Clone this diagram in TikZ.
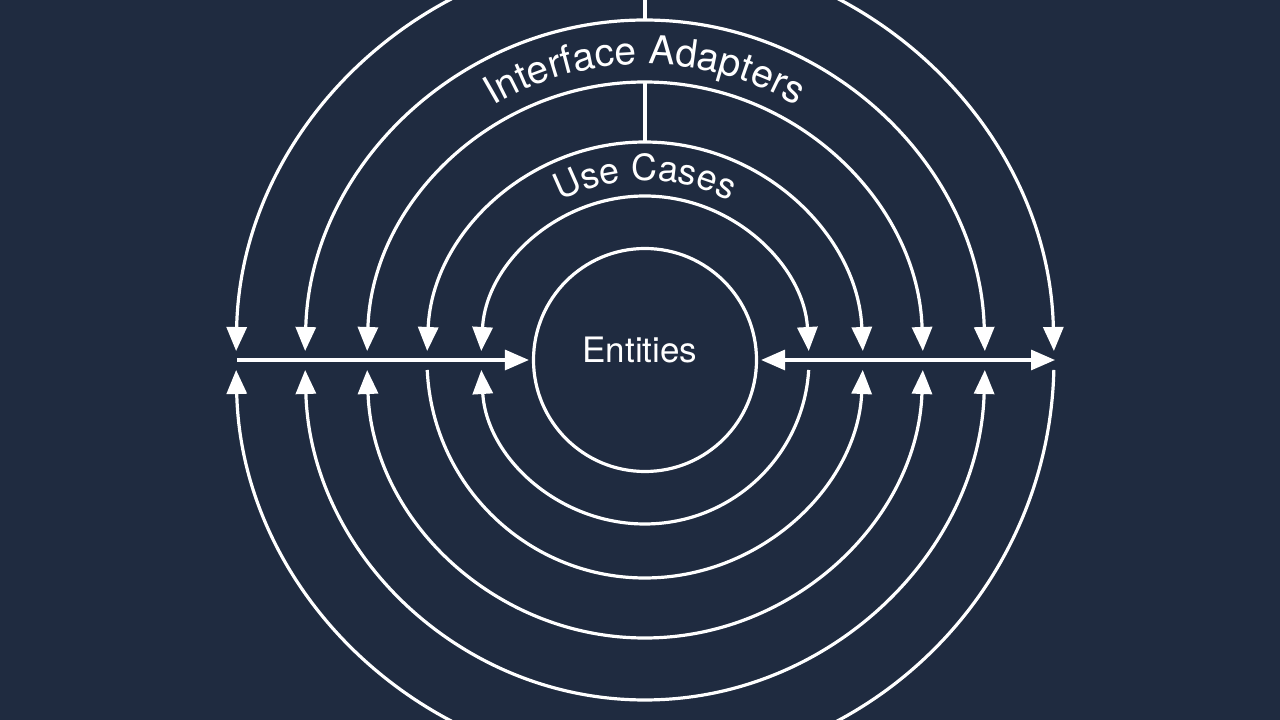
\documentclass[tikz,border=0pt]{standalone}
\usepackage{fontspec}
\setmainfont{TeX Gyre Heros}
\usetikzlibrary{arrows.meta,decorations.text,calc}
\definecolor{bg}{RGB}{31,43,64}
\begin{document}
\begin{tikzpicture}[x=1pt,y=1pt,
  ring/.style={draw=white, line width=3.2pt},
  hd/.tip={Triangle[length=24pt,width=20pt]},
  lbl/.style={text=white, inner sep=0pt}]
\fill[bg] (0,0) rectangle (1280,720);
\useasboundingbox (0,0) rectangle (1280,720);
\coordinate (c) at (645,360);
% central circle
\node[circle, draw=white, line width=3.2pt, minimum size=223pt, inner sep=0pt] (ent) at (c) {};
\node[lbl, font=\fontsize{35}{35}\selectfont, anchor=base] (entlabel) at (640,357) {Entities};
% upper arcs, arrows on both ends
\foreach \r in {164,218,278,340,409} {
  \pgfmathsetmacro\a{asin(9/\r)}
  \draw[ring, hd-hd] ($(c)+(180-\a:\r pt)$) arc[start angle=180-\a, end angle=\a, radius=\r pt];
}
% lower arcs
\foreach \r/\arr in {164/hd-, 218/-hd, 278/hd-hd, 340/hd-hd, 409/hd-} {
  \pgfmathsetmacro\b{asin(10/\r)}
  \draw[ring, \arr] ($(c)+(180+\b:\r pt)$) arc[start angle=180+\b, end angle=360-\b, radius=\r pt];
}
% vertical connectors
\coordinate (v1a) at ($(c)+(0,409)$);
\coordinate (v1b) at ($(c)+(0,340)$);
\coordinate (v2a) at ($(c)+(0,278)$);
\coordinate (v2b) at ($(c)+(0,218)$);
\draw[ring] (v1a) -- (v1b);
\draw[ring] (v2a) -- (v2b);
% horizontal arrows
\coordinate (hl) at (237,360);
\coordinate (hr) at (1055,360);
\draw[ring, -hd, shorten >=3pt] (hl) -- (ent.west);
\draw[ring, hd-hd, shorten <=3pt] (ent.east) -- (hr);
% curved labels
\path[decorate, decoration={text along path, text align=center, text color=white,
  text={|\fontsize{39}{39}\selectfont|Interface Adapters}}]
  ($(c)+(175:296pt)$) arc[start angle=175, end angle=5, radius=296pt];
\path[decorate, decoration={text along path, text align=center, text color=white,
  text={|\fontsize{36}{36}\selectfont|Use Cases}}]
  ($(c)+(175:180pt)$) arc[start angle=175, end angle=5, radius=180pt];
\end{tikzpicture}
\end{document}
